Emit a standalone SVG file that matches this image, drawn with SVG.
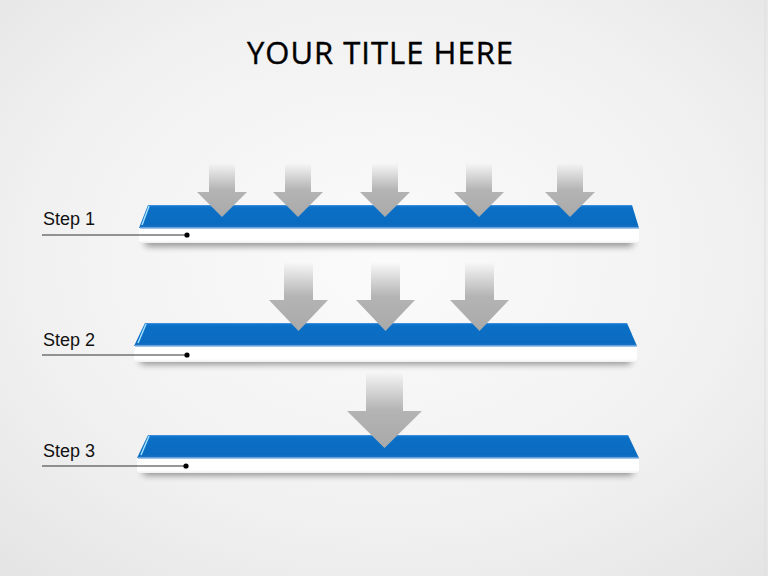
<svg xmlns="http://www.w3.org/2000/svg" width="768" height="576" viewBox="0 0 768 576">
<defs>
<radialGradient id="bg" cx="0.5" cy="0.45" r="0.75">
<stop offset="0" stop-color="#fbfbfb"/>
<stop offset="0.6" stop-color="#f1f1f1"/>
<stop offset="1" stop-color="#e4e4e4"/>
</radialGradient>
<linearGradient id="arr" x1="0" y1="0" x2="0" y2="1">
<stop offset="0" stop-color="#b4b4b4" stop-opacity="0"/>
<stop offset="0.5" stop-color="#b4b4b4" stop-opacity="1"/>
<stop offset="1" stop-color="#a9a9a9" stop-opacity="1"/>
</linearGradient>
<linearGradient id="blue" x1="0" y1="0" x2="0" y2="1">
<stop offset="0" stop-color="#1a7ad0"/>
<stop offset="0.15" stop-color="#0b6fc6"/>
<stop offset="0.85" stop-color="#0a6cc0"/>
<stop offset="1" stop-color="#1f74c4"/>
</linearGradient>
<linearGradient id="white" x1="0" y1="0" x2="0" y2="1">
<stop offset="0" stop-color="#ffffff"/>
<stop offset="0.8" stop-color="#ffffff"/>
<stop offset="1" stop-color="#f0f0f0"/>
</linearGradient>
<filter id="sh" x="-10%" y="-150%" width="120%" height="400%">
<feGaussianBlur stdDeviation="3.5"/>
</filter>
<style>
.step{font-family:"Liberation Sans",Arial,sans-serif;font-size:18px;fill:#111}
.lead{stroke:#333;stroke-width:1.2;fill:none}
.dot{fill:#000}
.seam{stroke:#7fb1e6;stroke-width:1.5}
.hl{stroke:#9fe0ff;stroke-width:1.5}
.top{stroke:#3b8ddc;stroke-width:1}
.shadow{fill:#000;opacity:0.45}
</style>
</defs>
<rect width="768" height="576" fill="url(#bg)"/>
<line x1="765" y1="0" x2="765" y2="576" stroke="#dedede" stroke-width="1"/>

<text x="380" y="64" text-anchor="middle" font-family="'Open Sans','Liberation Sans',sans-serif" font-size="31" fill="#000" stroke="#000" stroke-width="0.4" textLength="266" lengthAdjust="spacing">YOUR TITLE HERE</text>

<!-- Bar 1 -->
<g id="bar1">
<rect x="145" y="238" width="488" height="8" rx="3" class="shadow" filter="url(#sh)"/>
<path d="M139 228 L639 228 L639 240 Q639 243 636 243 L142 243 Q139 243 139 240 Z" fill="url(#white)"/>
<path d="M148 205 L632 205 L639 228 L139 228 Z" fill="url(#blue)"/>
<line x1="148" y1="205.5" x2="632" y2="205.5" class="top"/>
<line x1="140" y1="228" x2="639" y2="228" class="seam"/>
<line x1="149" y1="206" x2="142" y2="225" class="hl"/>
</g>
<!-- Bar 2 -->
<g id="bar2">
<rect x="140" y="356" width="491" height="8" rx="3" class="shadow" filter="url(#sh)"/>
<path d="M134 346 L637 346 L637 359 Q637 362 634 362 L137 362 Q134 362 134 359 Z" fill="url(#white)"/>
<path d="M145 323 L627 323 L637 346 L134 346 Z" fill="url(#blue)"/>
<line x1="145" y1="323.5" x2="627" y2="323.5" class="top"/>
<line x1="135" y1="346" x2="637" y2="346" class="seam"/>
<line x1="146" y1="324" x2="138" y2="343" class="hl"/>
</g>
<!-- Bar 3 -->
<g id="bar3">
<rect x="143" y="467" width="490" height="8" rx="3" class="shadow" filter="url(#sh)"/>
<path d="M137 458 L639 458 L639 470 Q639 473 636 473 L140 473 Q137 473 137 470 Z" fill="url(#white)"/>
<path d="M148 435 L628 435 L639 458 L137 458 Z" fill="url(#blue)"/>
<line x1="148" y1="435.5" x2="628" y2="435.5" class="top"/>
<line x1="138" y1="458" x2="639" y2="458" class="seam"/>
<line x1="149" y1="436" x2="141" y2="455" class="hl"/>
</g>

<!-- Arrows row 1 -->
<g id="arrows1" fill="url(#arr)">
<path d="M209 163 L235 163 L235 192 L247 192 L222 217 L197 192 L209 192 Z"/>
<path d="M285 163 L311 163 L311 192 L323 192 L298 217 L273 192 L285 192 Z"/>
<path d="M372 163 L398 163 L398 192 L410 192 L385 217 L360 192 L372 192 Z"/>
<path d="M466 163 L492 163 L492 192 L504 192 L479 217 L454 192 L466 192 Z"/>
<path d="M557 163 L583 163 L583 192 L595 192 L570 217 L545 192 L557 192 Z"/>
</g>
<!-- Arrows row 2 -->
<g id="arrows2" fill="url(#arr)">
<path d="M284 262 L313 262 L313 300 L328 300 L298.5 331 L269 300 L284 300 Z"/>
<path d="M371 262 L400 262 L400 300 L415 300 L385.5 331 L356 300 L371 300 Z"/>
<path d="M465 262 L494 262 L494 300 L509 300 L479.5 331 L450 300 L465 300 Z"/>
</g>
<!-- Arrow row 3 -->
<g id="arrow3" fill="url(#arr)">
<path d="M366 372 L403 372 L403 411 L422 411 L384.5 448 L347 411 L366 411 Z"/>
</g>

<!-- Labels and leaders -->
<g id="connectors">
<line x1="42" y1="235" x2="187" y2="235" class="lead"/>
<circle cx="187" cy="235" r="2.6" class="dot"/>
<line x1="42" y1="355" x2="187" y2="355" class="lead"/>
<circle cx="187" cy="355" r="2.6" class="dot"/>
<line x1="42" y1="466" x2="186" y2="466" class="lead"/>
<circle cx="186" cy="466" r="2.6" class="dot"/>
</g>
<g id="label1"><text x="43" y="225" class="step">Step 1</text></g>
<g id="label2"><text x="43" y="346" class="step">Step 2</text></g>
<g id="label3"><text x="43" y="457" class="step">Step 3</text></g>
</svg>
